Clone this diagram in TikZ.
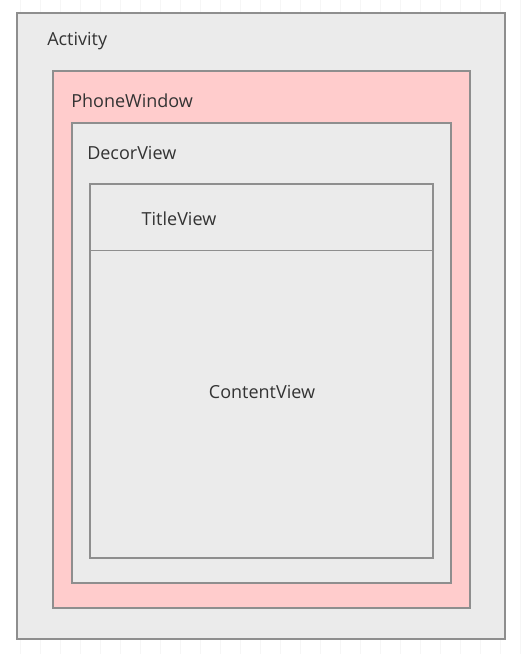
\documentclass[tikz,border=0pt]{standalone}
\usepackage{fontspec}
\setmainfont{Open Sans}
\begin{document}
\begin{tikzpicture}[x=0.75pt,y=-0.75pt,
  box/.style={draw=boxgray,line width=1.6pt},
  lbl/.style={text=txtgray,font=\fontsize{13.5}{16}\selectfont,inner sep=0pt},
]
\definecolor{boxgray}{HTML}{8E8E8E}
\definecolor{panel}{HTML}{EBEBEB}
\definecolor{pink}{HTML}{FFCCCC}
\definecolor{txtgray}{HTML}{333333}
\definecolor{gridc}{HTML}{F6F6F6}
\useasboundingbox (0,0) rectangle (531,654);
\fill[white] (0,0) rectangle (531,654);
\draw[gridc,line width=0.4pt] (2,0) grid[step=20] (531,654);
\draw[box,fill=panel] (17,13) rectangle (505,639);
\draw[box,fill=pink] (53,71) rectangle (470,608);
\draw[box,fill=panel] (72,123) rectangle (451,583);
\draw[box,fill=panel] (90,184) rectangle (433,558);
\coordinate (sepL) at (90,250);
\coordinate (sepR) at (433,250);
\draw[boxgray,line width=0.7pt] (sepL) -- (sepR);
\node[lbl,anchor=base west] (activity) at (47,45) {Activity};
\node[lbl,anchor=base west] (phonewindow) at (71,107) {PhoneWindow};
\node[lbl,anchor=base west] (decorview) at (87,159) {DecorView};
\node[lbl,anchor=base] (titleview) at (179,225) {TitleView};
\node[lbl,anchor=base] (contentview) at (262,398) {ContentView};
\end{tikzpicture}
\end{document}
